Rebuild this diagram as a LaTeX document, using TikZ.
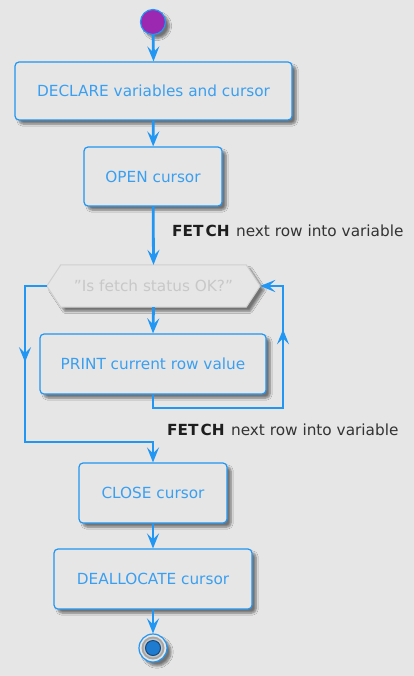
\documentclass[tikz,border=0pt]{standalone}
\usepackage{fontspec}
\setmainfont{DejaVu Sans}
\usetikzlibrary{arrows.meta,decorations.markings,shadows.blur}
\definecolor{bg}{HTML}{E6E6E6}
\definecolor{pblue}{HTML}{2196F3}
\definecolor{tblue}{HTML}{3A9FF0}
\definecolor{purp}{HTML}{9C27B0}
\definecolor{hexline}{HTML}{CFCFCF}
\definecolor{hextext}{HTML}{C8C8C8}
\definecolor{dotblue}{HTML}{1E7BCF}
\definecolor{dotline}{HTML}{174A80}
\definecolor{lbltext}{HTML}{333333}
\definecolor{lblbold}{HTML}{1E1E1E}
\tikzset{
  arrtip/.tip={Stealth[length=15pt,width=12pt,inset=6pt]},
  flow/.style={draw=pblue, line width=2.8pt},
  arr/.style={flow, -arrtip},
  shad/.style={blur shadow={shadow xshift=4pt, shadow yshift=-4pt, shadow blur steps=6, shadow opacity=50}},
  actbox/.style={draw=pblue, line width=1.2pt, fill=bg, rounded corners=4pt, text=tblue,
    font=\fontsize{15.3}{18}\selectfont, inner sep=0pt, shad},
  hexframe/.style={draw=none, inner sep=0pt},
  hexpoly/.style={draw=hexline, line width=1pt, fill=bg, shad},
  hextxt/.style={text=hextext, font=\fontsize{15.3}{18}\selectfont, inner sep=0pt},
  lbl/.style={text=lbltext, font=\fontsize{15.3}{18}\selectfont, inner sep=0pt},
  startc/.style={circle, fill=purp, draw=pblue, line width=1.2pt, minimum size=25pt, inner sep=0pt, shad},
  midarrow/.style={decoration={markings, mark=at position #1 with {\arrow{arrtip}}}, postaction={decorate}},
}
\newcommand{\fetchword}{\textcolor{lblbold}{\textbf{FET\kern2pt CH}}\hspace{6.5pt}}
\begin{document}
\begin{tikzpicture}[x=1pt,y=-1pt]
\useasboundingbox (0,0) rectangle (414,676);
\fill[bg] (0,0) rectangle (414,676);

\node[startc] (start) at (153,22) {};
\node[actbox, minimum width=277pt, minimum height=58pt] (decl) at (153.5,91) {DECLARE variables and cursor};
\node[actbox, minimum width=138pt, minimum height=59pt] (open) at (153,176.5) {OPEN cursor};

\node[hexframe, minimum width=213pt, minimum height=42pt] (hex) at (153.5,286) {};
\draw[hexpoly] (hex.west) -- ([xshift=14pt]hex.north west) -- ([xshift=-14pt]hex.north east)
  -- (hex.east) -- ([xshift=-14pt]hex.south east) -- ([xshift=14pt]hex.south west) -- cycle;
\node[hextxt] (hext) at (hex.center) {\char"22 Is fetch status OK?\char"22};

\node[actbox, minimum width=226pt, minimum height=60pt] (print) at (153,364) {PRINT current row value};
\node[actbox, minimum width=148pt, minimum height=60pt] (close) at (153,493) {CLOSE cursor};
\node[actbox, minimum width=198pt, minimum height=60pt] (dealloc) at (153,579) {DEALLOCATE cursor};

% end node
\node[circle, draw=pblue, line width=1.2pt, fill=bg, minimum size=28pt, inner sep=0pt, shad] (end) at (153,648) {};
\fill[gray!70] (end.center) circle[radius=11.5pt];
\fill[bg!70!gray] (end.center) circle[radius=9.5pt];
\draw[fill=dotblue, draw=dotline, line width=1pt] (end.center) circle[radius=7.5pt];

% labels
\node[lbl, anchor=west] (l1) at (172,231) {\fetchword{}next row into variable};
\node[lbl, anchor=west] (l2) at (167,430) {\fetchword{}next row into variable};

% coordinates for loops
\coordinate (r1) at (283,408);
\coordinate (r2) at (283,286);
\coordinate (q1) at (25,286);
\coordinate (q2) at (25,442);

% connectors
\draw[arr] (start) -- (decl.north);
\draw[arr] (decl) -- (open);
\draw[arr] (open) -- (hex.north);
\draw[arr] (hex.south) -- (print.north);
\draw[arr, midarrow=222pt] (print.south) |- (r1) -- (r2) -- (hex.east);
\draw[arr, midarrow=98pt] (hex.west) -- (q1) -- (q2) -| (close.north);
\draw[arr] (close) -- (dealloc);
\draw[arr] (dealloc) -- (end);
\end{tikzpicture}
\end{document}
